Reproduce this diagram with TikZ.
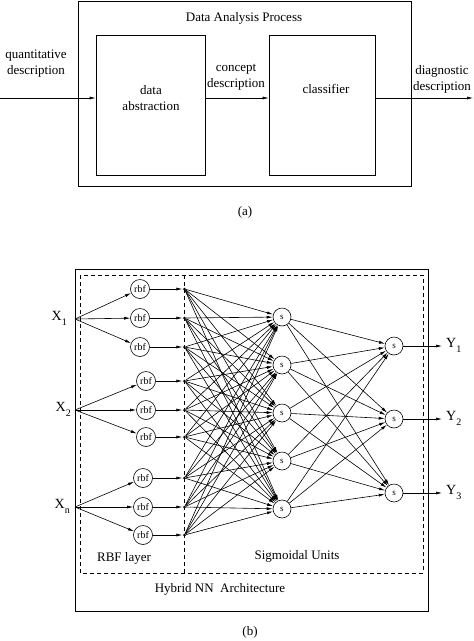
\documentclass[tikz,border=0pt]{standalone}
\usepackage{fontspec}
\setmainfont{Liberation Serif}
\usetikzlibrary{arrows.meta,calc}
\begin{document}
\begin{tikzpicture}[x=1pt,y=-1pt,
  txt/.style={inner sep=0pt,font=\fontsize{13}{15}\selectfont,align=center},
  blk/.style={draw,line width=0.7pt,inner sep=0pt},
  arr/.style={-{Latex[length=6pt,width=3pt]},line width=0.6pt},
  rbfnode/.style={circle,draw,line width=0.6pt,minimum size=19pt,inner sep=0pt,font=\fontsize{10}{10}\selectfont},
  snode/.style={circle,draw,line width=0.6pt,minimum size=18pt,inner sep=0pt,font=\fontsize{9}{9}\selectfont},
  dotnode/.style={circle,fill,minimum size=3pt,inner sep=0pt},
  dsh/.style={dash pattern=on 4pt off 3pt,line width=0.6pt},
  lbl/.style={inner sep=0pt,font=\fontsize{14}{14}\selectfont}]
\useasboundingbox (0,0) rectangle (474,641);

% ---------- (a) ----------
\node[blk,minimum width=333pt,minimum height=185pt] (outerA) at (244.5,93.5) {};
\node[blk,minimum width=109pt,minimum height=140pt] (box1) at (150.5,105) {};
\node[blk,minimum width=106pt,minimum height=140pt] (box2) at (322,105) {};
\node[txt] (title) at (244,18) {Data Analysis Process};
\node[txt] (t1) at (151,98) {data\\[1pt]abstraction};
\node[txt] (t2) at (326,89) {classifier};
\node[txt] (qd) at (36,64) {quantitative\\[1pt]description};
\node[txt] (cd) at (236,77) {concept\\[1pt]description};
\node[txt] (dd) at (442,79) {diagnostic\\[1pt]description};
\coordinate (in) at (0,98);
\coordinate (out) at (473,98);
\draw[arr] (in) -- (in -| box1.west);
\draw[arr] (box1.east |- in) -- (box2.west |- in);
\draw[arr] (box2.east |- in) -- (out);
\node[txt] (capa) at (245,212) {(a)};

% ---------- (b) ----------
\node[blk,minimum width=353pt,minimum height=342pt] (outerB) at (251.5,440) {};
\draw[dsh] (80,275) rectangle (423,573);
\coordinate (vt) at (184.5,275);
\coordinate (vb) at (184.5,573);
\draw[dsh] (vt) -- (vb);

\node[txt] (rbfl) at (124,558) {RBF layer};
\node[txt] (sigl) at (297,556) {Sigmoidal Units};
\node[txt] (hyb) at (220,589) {Hybrid NN\ \ Architecture};
\node[txt] (capb) at (250,632) {(b)};

% inputs
\coordinate (x1) at (75,319);
\coordinate (x2) at (75,410);
\coordinate (x3) at (75,507);
\node[lbl,anchor=east] (lx1) at (67,318) {X\raisebox{-5pt}{\fontsize{10}{10}\selectfont 1}};
\node[lbl,anchor=east] (lx2) at (71,409) {X\raisebox{-5pt}{\fontsize{10}{10}\selectfont 2}};
\node[lbl,anchor=east] (lx3) at (70,506) {X\raisebox{-5pt}{\fontsize{10}{10}\selectfont n}};

% rbf nodes
\foreach \i/\x/\y in {1/140/289,2/140/318,3/140/347,4/146/381,5/146/410,6/146/437,7/143/478,8/143/507,9/143/535}{
  \node[rbfnode] (r\i) at (\x,\y) {rbf};
  \node[dotnode] (d\i) at (184.5,\y) {};
  \draw[arr,shorten >=0.5pt] (r\i) -- (d\i);
}
\foreach \i in {1,2,3}{\draw[arr] (x1) -- (r\i);}
\foreach \i in {4,5,6}{\draw[arr] (x2) -- (r\i);}
\foreach \i in {7,8,9}{\draw[arr] (x3) -- (r\i);}

% hidden sigmoid nodes
\foreach \j/\y in {1/317,2/365,3/413,4/461,5/509}{
  \node[snode] (h\j) at (282,\y) {s};
}
% output nodes
\foreach \k/\y in {1/346,2/419,3/493}{
  \node[snode] (o\k) at (394,\y) {s};
  \coordinate (e\k) at (442,\y);
  \draw[arr] (o\k) -- (e\k);
  \node[lbl,anchor=west] (y\k) at (446,\y-1) {Y\raisebox{-5pt}{\fontsize{10}{10}\selectfont \k}};
}
\foreach \i in {1,...,9}{\foreach \j in {1,...,5}{\draw[arr] (d\i) -- (h\j);}}
\foreach \j in {1,...,5}{\foreach \k in {1,2,3}{\draw[arr] (h\j) -- (o\k);}}
\end{tikzpicture}
\end{document}
